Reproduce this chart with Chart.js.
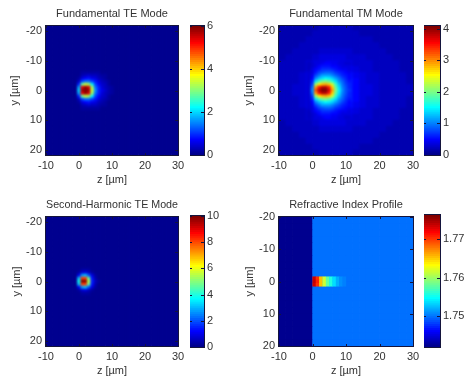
<!DOCTYPE html>
<html>
<head>
<meta charset="utf-8">
<title>Mode profiles</title>
<script src="https://cdn.jsdelivr.net/npm/chart.js@4"></script>
<style>
    html, body { margin: 0; padding: 0; background: #fff; }
    #page { position: relative; width: 474px; height: 381px; overflow: hidden; }
    canvas { position: absolute; display: block; }
</style>
</head>
<body>
<div id="page"></div>
<script>
// tick labels
const zTicks = [-10, 0, 10, 20, 30];
const yTicks = [-20, -10, 0, 10, 20];
const teBarTicks = [0, 2, 4, 6];
const tmBarTicks = [0, 1, 2, 3, 4];
const shBarTicks = [0, 2, 4, 6, 8, 10];
const indexBarTicks = [1.75, 1.76, 1.77];

// colour ranges
const teRange = [0, 6];
const tmRange = [0, 4.09];
const shRange = [0, 10];
const indexRange = [1.742, 1.7762];

// coarse 2 um background cells
const coarseZ = [-9, -7, -5, -3, -1, 1, 3, 5, 7, 9, 11, 13, 15, 17, 19, 21, 23, 25, 27, 29];
const coarseY = [-21, -19, -17, -15, -13, -11, -9, -7, -5, -3, -1, 1, 3, 5, 7, 9, 11, 13, 15, 17, 19, 21];
const indexCoarseY = [-19, -17, -15, -13, -11, -9, -7, -5, -3, -1, 1, 3, 5, 7, 9, 11, 13, 15, 17, 19];

const teBackground = 0;
const shBackground = 0;
const indexCladding = [1.742, 1.742, 1.742, 1.742, 1.742, 1.7495, 1.7495, 1.7495, 1.7495, 1.7495, 1.7495, 1.7495, 1.7495, 1.7495, 1.7495, 1.7495, 1.7495, 1.7495, 1.7495, 1.7495];

const tmCoarse = [
    [.17,.17,.17,.18,.18,.19,.2,.2,.2,.2,.2,.19,.19,.18,.18,.17,.17,.16,.16,.15],
    [.17,.18,.18,.18,.19,.2,.21,.21,.21,.21,.2,.2,.19,.19,.18,.18,.17,.17,.16,.16],
    [.18,.18,.19,.19,.2,.21,.22,.22,.22,.22,.22,.21,.2,.2,.19,.18,.18,.17,.17,.16],
    [.18,.19,.19,.2,.21,.23,.24,.25,.25,.24,.24,.23,.22,.21,.2,.19,.18,.18,.17,.17],
    [.19,.19,.2,.21,.23,.25,.27,.28,.28,.27,.26,.25,.23,.22,.21,.2,.19,.18,.18,.17],
    [.19,.2,.21,.23,.25,.28,.32,.33,.33,.32,.3,.28,.26,.24,.22,.21,.2,.19,.18,.18],
    [.2,.21,.22,.24,.27,.33,.38,.42,.42,.38,.35,.31,.28,.26,.24,.22,.21,.2,.19,.18],
    [.21,.22,.23,.25,.3,.42,.55,.62,.62,.5,.4,.35,.31,.28,.25,.23,.22,.2,.19,.19],
    [.22,.23,.24,.27,.34,.7,.9,1,1,.7,.52,.4,.34,.3,.27,.24,.22,.21,.2,.19],
    [.22,.23,.25,.28,.38,.9,1,1,1,.9,.58,.45,.37,.31,.27,.25,.23,.21,.2,.19],
    [.23,.24,.26,.29,.38,1,1,1,1,.9,.62,.48,.38,.32,.28,.25,.23,.22,.2,.2],
    [.23,.24,.26,.29,.38,1,1,1,1,.9,.62,.48,.38,.32,.28,.25,.23,.22,.2,.2],
    [.22,.23,.25,.28,.38,.9,1,1,1,.9,.58,.45,.37,.31,.27,.25,.23,.21,.2,.19],
    [.22,.23,.24,.27,.34,.7,.9,1,1,.7,.52,.4,.34,.3,.27,.24,.22,.21,.2,.19],
    [.21,.22,.23,.25,.3,.42,.55,.62,.62,.5,.4,.35,.31,.28,.25,.23,.22,.2,.19,.19],
    [.2,.21,.22,.24,.27,.33,.38,.42,.42,.38,.35,.31,.28,.26,.24,.22,.21,.2,.19,.18],
    [.19,.2,.21,.23,.25,.28,.32,.33,.33,.32,.3,.28,.26,.24,.22,.21,.2,.19,.18,.18],
    [.19,.19,.2,.21,.23,.25,.27,.28,.28,.27,.26,.25,.23,.22,.21,.2,.19,.18,.18,.17],
    [.18,.19,.19,.2,.21,.23,.24,.25,.25,.24,.24,.23,.22,.21,.2,.19,.18,.18,.17,.17],
    [.18,.18,.19,.19,.2,.21,.22,.22,.22,.22,.22,.21,.2,.2,.19,.18,.18,.17,.17,.16],
    [.17,.18,.18,.18,.19,.2,.21,.21,.21,.21,.2,.2,.19,.19,.18,.18,.17,.17,.16,.16],
    [.17,.17,.17,.18,.18,.19,.2,.2,.2,.2,.2,.19,.19,.18,.18,.17,.17,.16,.16,.15]
];

// fine 1 um cells around each spot
const teZ = [-1, 0, 1, 2, 3, 4, 5, 6, 7, 8, 9, 10];
const teY = [-6, -5, -4, -3, -2, -1, 0, 1, 2, 3, 4, 5, 6];
const teSpot = [
    [0,.04,.12,.15,.18,.15,.12,.1,.08,.05,.03,.01],
    [0,.08,.25,.35,.4,.35,.3,.2,.15,.1,.05,.02],
    [.02,.15,.5,.7,.75,.65,.5,.35,.25,.15,.08,.04],
    [.02,.35,1.1,1.4,1.4,1.1,.75,.5,.35,.2,.1,.05],
    [.03,.9,2.8,3.4,3.1,2.1,1.1,.7,.45,.3,.15,.07],
    [.05,1.6,5.3,5.9,5.4,3.1,1.4,.85,.55,.35,.2,.1],
    [.05,1.9,5.8,6,5.8,3.4,1.5,.9,.6,.4,.25,.12],
    [.05,1.6,5.3,5.9,5.4,3.1,1.4,.85,.55,.35,.2,.1],
    [.03,.9,2.8,3.4,3.1,2.1,1.1,.7,.45,.3,.15,.07],
    [.02,.35,1.1,1.4,1.4,1.1,.75,.5,.35,.2,.1,.05],
    [.02,.15,.5,.7,.75,.65,.5,.35,.25,.15,.08,.04],
    [0,.08,.25,.35,.4,.35,.3,.2,.15,.1,.05,.02],
    [0,.04,.12,.15,.18,.15,.12,.1,.08,.05,.03,.01]
];

const tmZ = [-1, 0, 1, 2, 3, 4, 5, 6, 7, 8, 9, 10, 11];
const tmY = [-9, -8, -7, -6, -5, -4, -3, -2, -1, 0, 1, 2, 3, 4, 5, 6, 7, 8, 9];
const tmSpot = [
    [.23,.27,.33,.38,.42,.45,.45,.42,.39,.36,.33,.31,.29],
    [.24,.3,.38,.46,.52,.55,.55,.5,.46,.42,.38,.35,.32],
    [.25,.32,.45,.56,.65,.68,.68,.62,.56,.5,.44,.4,.36],
    [.26,.36,.55,.72,.82,.88,.85,.8,.7,.6,.52,.45,.4],
    [.27,.42,.72,.95,1.1,1.15,1.12,1,.88,.75,.62,.52,.45],
    [.28,.5,1,1.25,1.4,1.5,1.45,1.3,1.1,.9,.75,.6,.5],
    [.3,.6,1.35,1.75,1.95,2,1.9,1.65,1.35,1.05,.85,.7,.55],
    [.3,.75,2.1,2.6,2.8,2.85,2.7,2.3,1.7,1.25,.95,.75,.6],
    [.3,.95,2.9,3.5,3.8,3.8,3.4,2.7,1.9,1.4,1,.78,.62],
    [.3,1.05,3.2,3.8,4.09,4.09,3.7,2.9,2,1.45,1.05,.8,.65],
    [.3,.95,2.9,3.5,3.8,3.8,3.4,2.7,1.9,1.4,1,.78,.62],
    [.3,.75,2.1,2.6,2.8,2.85,2.7,2.3,1.7,1.25,.95,.75,.6],
    [.3,.6,1.35,1.75,1.95,2,1.9,1.65,1.35,1.05,.85,.7,.55],
    [.28,.5,1,1.25,1.4,1.5,1.45,1.3,1.1,.9,.75,.6,.5],
    [.27,.42,.72,.95,1.1,1.15,1.12,1,.88,.75,.62,.52,.45],
    [.26,.36,.55,.72,.82,.88,.85,.8,.7,.6,.52,.45,.4],
    [.25,.32,.45,.56,.65,.68,.68,.62,.56,.5,.44,.4,.36],
    [.24,.3,.38,.46,.52,.55,.55,.5,.46,.42,.38,.35,.32],
    [.23,.27,.33,.38,.42,.45,.45,.42,.39,.36,.33,.31,.29]
];

const shZ = [-1, 0, 1, 2, 3, 4, 5, 6];
const shY = [-4, -3, -2, -1, 0, 1, 2, 3, 4];
const shSpot = [
    [0,.08,.2,.25,.2,.1,.05,0],
    [0,.25,.7,.8,.55,.3,.12,.05],
    [.05,1,2.8,3,1.9,.8,.3,.1],
    [.1,3,8,8,4.6,1.3,.45,.15],
    [.1,3.8,10,10,5.6,1.5,.5,.2],
    [.1,3,8,8,4.6,1.3,.45,.15],
    [.05,1,2.8,3,1.9,.8,.3,.1],
    [0,.25,.7,.8,.55,.3,.12,.05],
    [0,.08,.2,.25,.2,.1,.05,0]
];

const coreZ = [0.5, 1.5, 2.5, 3.5, 4.5, 5.5, 6.5, 7.5, 8.5, 9.5];
const coreY = [-1, 0, 1];
const coreIndex = [
    [1.7730,1.7700,1.7655,1.7615,1.7580,1.7555,1.7535,1.7520,1.7510,1.7502],
    [1.7740,1.7705,1.7655,1.7615,1.7580,1.7555,1.7535,1.7520,1.7510,1.7502],
    [1.7730,1.7700,1.7655,1.7615,1.7580,1.7555,1.7535,1.7520,1.7510,1.7502]
];

const FONT = 'Liberation Sans, Arial, sans-serif';
const TEXT = '#333333';
const page = document.getElementById('page');

// MATLAB jet, 64 levels
function jetColor(value, range) {
    const clamp = v => Math.max(0, Math.min(1, v));
    const t = clamp((value - range[0]) / (range[1] - range[0]));
    const f = (Math.min(63, Math.floor(t * 64)) + 1) / 64;
    const r = clamp(Math.min(4 * f - 1.5, -4 * f + 4.5));
    const g = clamp(Math.min(4 * f - 0.5, -4 * f + 3.5));
    const b = clamp(Math.min(4 * f + 0.5, -4 * f + 2.5));
    return `rgb(${Math.round(r * 255)},${Math.round(g * 255)},${Math.round(b * 255)})`;
}

function cellLayer(zs, ys, valueAt, step, range) {
    const points = [];
    const colors = [];
    ys.forEach((y, i) => {
        zs.forEach((z, j) => {
            points.push({ x: z, y: y });
            colors.push(jetColor(valueAt(i, j), range));
        });
    });
    return {
        data: points,
        pointStyle: 'rect',
        pointBackgroundColor: colors,
        pointBorderWidth: 0,
        pointHoverRadius: 0,
        showLine: false,
        clip: 0,
        pointRadius: ctx => {
            const sx = ctx.chart.scales.x;
            const sy = ctx.chart.scales.y;
            const w = Math.abs(sx.getPixelForValue(step) - sx.getPixelForValue(0));
            const h = Math.abs(sy.getPixelForValue(step) - sy.getPixelForValue(0));
            return (Math.max(w, h) + 0.3) * Math.SQRT1_2;
        }
    };
}

// soften the cell edges a little, the reference is a blurry jpeg
const softenCells = {
    id: 'softenCells',
    afterDatasetsDraw(chart, args, options) {
        const a = chart.chartArea;
        const ctx = chart.ctx;
        ctx.save();
        ctx.beginPath();
        ctx.rect(a.left, a.top, a.right - a.left, a.bottom - a.top);
        ctx.clip();
        ctx.filter = `blur(${options.blur}px)`;
        ctx.drawImage(chart.canvas, 0, 0);
        ctx.restore();
    }
};

// box and short inward ticks, like a MATLAB axes
const axesFrame = {
    id: 'axesFrame',
    afterDraw(chart) {
        const a = chart.chartArea;
        const ctx = chart.ctx;
        ctx.save();
        ctx.strokeStyle = '#14143c';
        ctx.lineWidth = 1;
        ctx.strokeRect(Math.round(a.left) - 0.5, Math.round(a.top) - 0.5, Math.round(a.right - a.left) + 1, Math.round(a.bottom - a.top) + 1);
        const x = chart.scales.x;
        const y = chart.scales.y;
        ctx.beginPath();
        if (x.options.display) {
            x.ticks.forEach(t => {
                const px = Math.round(x.getPixelForValue(t.value)) + 0.5;
                ctx.moveTo(px, a.bottom); ctx.lineTo(px, a.bottom - 2);
                ctx.moveTo(px, a.top); ctx.lineTo(px, a.top + 2);
            });
        }
        y.ticks.forEach(t => {
            const py = Math.round(y.getPixelForValue(t.value)) + 0.5;
            ctx.moveTo(a.left, py); ctx.lineTo(a.left + 2, py);
            ctx.moveTo(a.right, py); ctx.lineTo(a.right - 3, py);
        });
        ctx.stroke();
        ctx.restore();
    }
};

function addCanvas(left, top, width, height) {
    const canvas = document.createElement('canvas');
    canvas.width = width;
    canvas.height = height;
    canvas.style.left = left + 'px';
    canvas.style.top = top + 'px';
    canvas.style.width = width + 'px';
    canvas.style.height = height + 'px';
    page.appendChild(canvas);
    return canvas.getContext('2d');
}

function heatPanel(box, titleText, yLimit, blur, layers) {
    const side = 46;
    const under = 32;
    const ctx = addCanvas(box.left - side, box.top - box.head, box.width + side * 2, box.head + box.height + under);
    new Chart(ctx, {
        type: 'scatter',
        data: { datasets: layers },
        plugins: [softenCells, axesFrame],
        options: {
            responsive: false,
            animation: false,
            events: [],
            layout: { autoPadding: false, padding: { left: 0, right: side, top: 0, bottom: 0 } },
            plugins: {
                legend: { display: false },
                tooltip: { enabled: false },
                softenCells: { blur: blur },
                title: {
                    display: true,
                    fullSize: false,
                    text: titleText,
                    color: TEXT,
                    font: { family: FONT, size: 11, weight: 'normal', lineHeight: 1.2 },
                    padding: { top: box.head - 18.7, bottom: 5.5 }
                }
            },
            scales: {
                x: {
                    type: 'linear',
                    min: -10,
                    max: 30,
                    afterBuildTicks: s => { s.ticks = zTicks.map(v => ({ value: v })); },
                    afterFit: s => { s.height = under; },
                    grid: { display: false, drawTicks: false },
                    border: { display: false },
                    ticks: { color: TEXT, font: { family: FONT, size: 11 }, padding: 4, maxRotation: 0, autoSkip: false },
                    title: { display: true, text: 'z [\u00b5m]', color: TEXT, font: { family: FONT, size: 11 }, padding: { top: 0, bottom: 0 } }
                },
                y: {
                    type: 'linear',
                    reverse: true,
                    min: -yLimit,
                    max: yLimit,
                    afterBuildTicks: s => { s.ticks = yTicks.map(v => ({ value: v })); },
                    afterFit: s => { s.width = side; },
                    grid: { display: false, drawTicks: false },
                    border: { display: false },
                    ticks: { color: TEXT, font: { family: FONT, size: 11 }, padding: 4, autoSkip: false },
                    title: { display: true, text: 'y [\u00b5m]', color: TEXT, font: { family: FONT, size: 11 }, padding: { top: box.labelGap, bottom: 0 } }
                }
            }
        }
    });
}

function colorBar(box, range, ticks, decimals) {
    const margin = 12;
    const right = 32;
    const ctx = addCanvas(box.left, box.top - margin, box.width + right, box.height + margin * 2);
    const levels = [];
    for (let i = 0; i < 64; i++) levels.push(i);
    const stepSize = (range[1] - range[0]) / 64;
    // every bar starts at the bottom, dataset 0 is painted last so no gaps show
    const bars = levels.map(i => ({
        data: [[range[0], range[0] + (i + 1) * stepSize]],
        backgroundColor: jetColor(range[0] + (i + 0.5) * stepSize, range),
        borderWidth: 0,
        grouped: false,
        barPercentage: 1,
        categoryPercentage: 1
    }));
    new Chart(ctx, {
        type: 'bar',
        data: { labels: [''], datasets: bars },
        plugins: [axesFrame],
        options: {
            responsive: false,
            animation: false,
            events: [],
            layout: { autoPadding: false, padding: { left: 0, right: 0, top: margin, bottom: margin } },
            plugins: { legend: { display: false }, tooltip: { enabled: false } },
            scales: {
                x: { display: false },
                y: {
                    type: 'linear',
                    position: 'right',
                    min: range[0],
                    max: range[1],
                    afterBuildTicks: s => { s.ticks = ticks.map(v => ({ value: v })); },
                    afterFit: s => { s.width = right; },
                    grid: { display: false, drawTicks: false },
                    border: { display: false },
                    ticks: {
                        color: TEXT,
                        font: { family: FONT, size: 11 },
                        padding: 3,
                        autoSkip: false,
                        callback: v => v.toFixed(decimals)
                    }
                }
            }
        }
    });
}

const limitWide = 21.6;

heatPanel({ left: 46, top: 26, width: 132, height: 129, head: 26, labelGap: 8 }, 'Fundamental TE Mode', limitWide, 0.9, [
    cellLayer(teZ, teY, (i, j) => teSpot[i][j], 1, teRange),
    cellLayer(coarseZ, coarseY, () => teBackground, 2, teRange)
]);
colorBar({ left: 190, top: 26, width: 14, height: 129 }, teRange, teBarTicks, 0);

heatPanel({ left: 279, top: 26, width: 134, height: 129, head: 26, labelGap: 9 }, 'Fundamental TM Mode', limitWide, 1.2, [
    cellLayer(tmZ, tmY, (i, j) => tmSpot[i][j], 1, tmRange),
    cellLayer(coarseZ, coarseY, (i, j) => tmCoarse[i][j], 2, tmRange)
]);
colorBar({ left: 424, top: 26, width: 16, height: 129 }, tmRange, tmBarTicks, 0);

heatPanel({ left: 46, top: 217, width: 132, height: 129, head: 25, labelGap: 10 }, 'Second-Harmonic TE Mode', limitWide, 0.8, [
    cellLayer(shZ, shY, (i, j) => shSpot[i][j], 1, shRange),
    cellLayer(coarseZ, coarseY, () => shBackground, 2, shRange)
]);
colorBar({ left: 190, top: 216, width: 14, height: 131 }, shRange, shBarTicks, 0);

heatPanel({ left: 279, top: 217, width: 134, height: 129, head: 25, labelGap: 10 }, 'Refractive Index Profile', 20, 0.6, [
    cellLayer(coreZ, coreY, (i, j) => coreIndex[i][j], 1, indexRange),
    cellLayer(coarseZ, indexCoarseY, (i, j) => indexCladding[j], 2, indexRange)
]);
colorBar({ left: 424, top: 215, width: 16, height: 132 }, indexRange, indexBarTicks, 2);
</script>
</body>
</html>
